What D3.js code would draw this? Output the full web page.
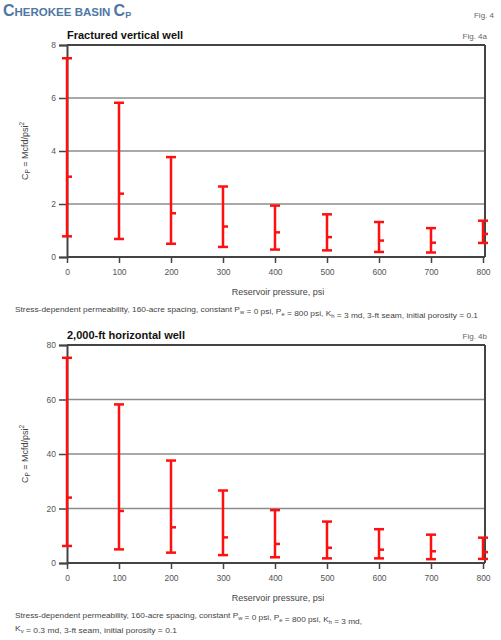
<!DOCTYPE html>
<html><head><meta charset="utf-8">
<script src="https://cdn.jsdelivr.net/npm/d3@7"></script>
<style>
body{margin:0;background:#fff;}
text{font-family:"Liberation Sans",Arial,sans-serif;}
</style></head>
<body>
<svg id="c" width="501" height="640"></svg>
<script>
const pressures = [0,100,200,300,400,500,600,700,800];
const xTicks = [0,100,200,300,400,500,600,700,800];

// Fig 4a: fractured vertical well
const vertHigh = [7.5,5.82,3.77,2.66,1.94,1.61,1.32,1.09,1.37];
const vertMid  = [3.03,2.39,1.65,1.15,0.93,0.75,0.62,0.54,0.87];
const vertLow  = [0.78,0.68,0.5,0.38,0.28,0.25,0.19,0.17,0.53];
const vertYTicks = [0,2,4,6,8];

// Fig 4b: 2,000-ft horizontal well
const horzHigh = [75.3,58.2,37.6,26.6,19.4,15.2,12.4,10.4,9.3];
const horzMid  = [24.0,19.1,13.1,9.4,7.0,5.6,4.9,4.3,4.0];
const horzLow  = [6.25,5.0,3.8,2.9,2.1,1.7,1.7,1.4,1.5];
const horzYTicks = [0,20,40,60,80];

const svg = d3.select("#c");

// header
const hfont = "'Liberation Sans Narrow','DejaVu Sans Condensed',sans-serif";
const hdr = svg.append("text").attr("x",3).attr("y",16)
  .attr("fill","#4f77a3").attr("font-weight","bold").attr("font-family",hfont);
hdr.append("tspan").attr("font-size",16).text("C");
hdr.append("tspan").attr("font-size",11.5).text("HEROKEE BASIN ");
hdr.append("tspan").attr("font-size",16).text("C");
hdr.append("tspan").attr("font-size",9).attr("dy",2).text("P");

svg.append("text").attr("x",494).attr("y",18).attr("text-anchor","end")
  .attr("font-size",8).attr("fill","#666").text("Fig. 4");

function panel(cfg){
  const x = d3.scaleLinear().domain([0,800]).range([67,483]);
  const y = d3.scaleLinear().domain([0,cfg.ymax]).range([cfg.y0,cfg.y1]);
  const g = svg.append("g");
  const right = 485;

  // grid
  g.selectAll("line.grid").data(cfg.yTicks.filter(d=>d>0&&d<cfg.ymax)).join("line")
    .attr("x1",67).attr("x2",right).attr("y1",d=>y(d)).attr("y2",d=>y(d))
    .attr("stroke","#8c8c8c").attr("stroke-width",1.6);
  // frame top & right
  g.append("line").attr("x1",67).attr("x2",right).attr("y1",y(cfg.ymax)).attr("y2",y(cfg.ymax))
    .attr("stroke","#444").attr("stroke-width",2);
  g.append("line").attr("x1",right).attr("x2",right).attr("y1",y(cfg.ymax)).attr("y2",y(0))
    .attr("stroke","#444").attr("stroke-width",2);

  // axes
  const ya = d3.axisLeft(y).tickValues(cfg.yTicks).tickSize(8).tickPadding(3);
  const yg = g.append("g").attr("transform","translate(67,0)").call(ya);
  const xa = d3.axisBottom(x).tickValues(xTicks).tickSize(6).tickPadding(6);
  const xg = g.append("g").attr("transform",`translate(0,${cfg.y0})`).call(xa);
  [yg,xg].forEach(a=>{
    a.select(".domain").attr("stroke","#444").attr("stroke-width",2);
    a.selectAll(".tick line").attr("stroke","#444").attr("stroke-width",1.5);
    a.selectAll(".tick text").attr("font-size",8.5).attr("fill","#555")
      .attr("font-family","'Liberation Sans',Arial,sans-serif");
  });
  xg.select(".domain").attr("d",`M67,0H${right}`);

  // error bars
  const eb = g.selectAll("g.eb").data(pressures.map((p,i)=>({p,hi:cfg.hi[i],mid:cfg.mid[i],lo:cfg.lo[i]}))).join("g");
  const red = "#ff1010";
  eb.append("line").attr("x1",d=>x(d.p)).attr("x2",d=>x(d.p)).attr("y1",d=>y(d.hi)).attr("y2",d=>y(d.lo))
    .attr("stroke",red).attr("stroke-width",2.5);
  eb.append("line").attr("x1",d=>x(d.p)-5).attr("x2",d=>x(d.p)+5).attr("y1",d=>y(d.hi)).attr("y2",d=>y(d.hi))
    .attr("stroke",red).attr("stroke-width",2.5);
  eb.append("line").attr("x1",d=>x(d.p)-5).attr("x2",d=>x(d.p)+5).attr("y1",d=>y(d.lo)).attr("y2",d=>y(d.lo))
    .attr("stroke",red).attr("stroke-width",2.5);
  eb.append("line").attr("x1",d=>x(d.p)).attr("x2",d=>x(d.p)+5).attr("y1",d=>y(d.mid)).attr("y2",d=>y(d.mid))
    .attr("stroke",red).attr("stroke-width",2.5);

  // titles
  svg.append("text").attr("x",67).attr("y",cfg.y1-6).attr("font-size",11).attr("font-weight","bold")
    .attr("fill","#111").text(cfg.title);
  svg.append("text").attr("x",487).attr("y",cfg.y1-6).attr("text-anchor","end")
    .attr("font-size",8).attr("fill","#666").text(cfg.fig);

  // y label
  const yl = svg.append("text").attr("transform",`translate(28,${(cfg.y0+cfg.y1)/2}) rotate(-90)`)
    .attr("text-anchor","middle").attr("font-size",9).attr("fill","#444");
  yl.append("tspan").text("C");
  yl.append("tspan").attr("font-size",6.5).attr("dy",2).text("P");
  yl.append("tspan").attr("dy",-2).text(" = Mcfd/psi");
  yl.append("tspan").attr("font-size",6.5).attr("dy",-4).text("2");

  // x label
  svg.append("text").attr("x",278).attr("y",cfg.y0+38).attr("text-anchor","middle")
    .attr("font-size",9).attr("fill","#444").text("Reservoir pressure, psi");

  // footnotes
  cfg.notes.forEach((parts,li)=>{
    const t = svg.append("text").attr("x",15).attr("y",cfg.y0+55+li*13)
      .attr("font-size",7.2).attr("fill","#444");
    if(cfg.noteLen[li]) t.attr("textLength",cfg.noteLen[li]).attr("lengthAdjust","spacingAndGlyphs");
    parts.forEach(p=>{
      if(typeof p==="string") t.append("tspan").text(p);
      else { t.append("tspan").attr("font-size",5).attr("dy",2).text(p.sub);
             t.append("tspan").attr("dy",-2).text(""); }
    });
  });
}

panel({y0:257,y1:45,ymax:8,yTicks:vertYTicks,hi:vertHigh,mid:vertMid,lo:vertLow,
  title:"Fractured vertical well",fig:"Fig. 4a",
  notes:[["Stress-dependent permeability, 160-acre spacing, constant P",{sub:"w"}," = 0 psi, P",{sub:"e"}," = 800 psi, K",{sub:"h"}," = 3 md, 3-ft seam, initial porosity = 0.1"]],
  noteLen:[463]});
panel({y0:563,y1:345,ymax:80,yTicks:horzYTicks,hi:horzHigh,mid:horzMid,lo:horzLow,
  title:"2,000-ft horizontal well",fig:"Fig. 4b",
  notes:[["Stress-dependent permeability, 160-acre spacing, constant P",{sub:"w"}," = 0 psi, P",{sub:"e"}," = 800 psi, K",{sub:"h"}," = 3 md,"],
         ["K",{sub:"v"}," = 0.3 md, 3-ft seam, initial porosity = 0.1"]],
  noteLen:[347,162]});
</script>
</body></html>
